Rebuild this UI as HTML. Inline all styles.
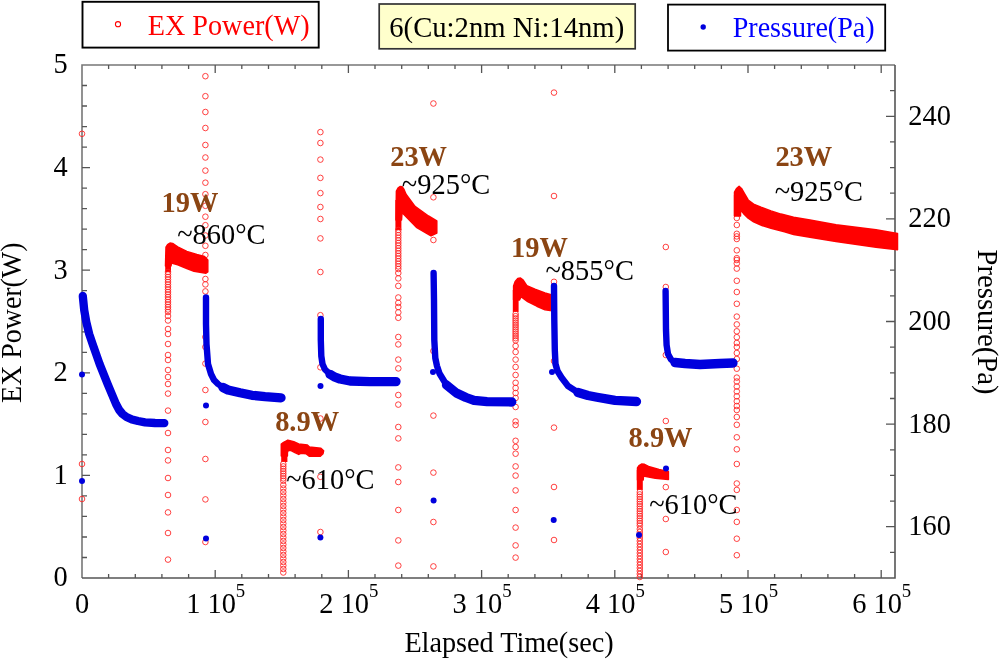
<!DOCTYPE html>
<html><head><meta charset="utf-8"><title>EX Power and Pressure vs Elapsed Time</title><style>
html,body{margin:0;padding:0;background:#fff;width:1000px;height:660px;overflow:hidden}
svg{display:block}
text{font-family:"Liberation Serif",serif}
</style></head><body>
<svg width="1000" height="660" viewBox="0 0 1000 660">
<path d="M82.0,578.0 V65.0 H895.0" fill="none" stroke="#777" stroke-width="1.6"/>
<path d="M82.0,578.0 H895.0 V65.0" fill="none" stroke="#555" stroke-width="1.6"/>
<path d="M108.6,578.0v-4.0M108.6,65.0v4.0M135.3,578.0v-4.0M135.3,65.0v4.0M161.9,578.0v-4.0M161.9,65.0v4.0M188.6,578.0v-4.0M188.6,65.0v4.0M215.2,578.0v-8.0M215.2,65.0v8.0M241.8,578.0v-4.0M241.8,65.0v4.0M268.5,578.0v-4.0M268.5,65.0v4.0M295.1,578.0v-4.0M295.1,65.0v4.0M321.8,578.0v-4.0M321.8,65.0v4.0M348.4,578.0v-8.0M348.4,65.0v8.0M375.0,578.0v-4.0M375.0,65.0v4.0M401.7,578.0v-4.0M401.7,65.0v4.0M428.3,578.0v-4.0M428.3,65.0v4.0M455.0,578.0v-4.0M455.0,65.0v4.0M481.6,578.0v-8.0M481.6,65.0v8.0M508.2,578.0v-4.0M508.2,65.0v4.0M534.9,578.0v-4.0M534.9,65.0v4.0M561.5,578.0v-4.0M561.5,65.0v4.0M588.2,578.0v-4.0M588.2,65.0v4.0M614.8,578.0v-8.0M614.8,65.0v8.0M641.4,578.0v-4.0M641.4,65.0v4.0M668.1,578.0v-4.0M668.1,65.0v4.0M694.7,578.0v-4.0M694.7,65.0v4.0M721.4,578.0v-4.0M721.4,65.0v4.0M748.0,578.0v-8.0M748.0,65.0v8.0M774.6,578.0v-4.0M774.6,65.0v4.0M801.3,578.0v-4.0M801.3,65.0v4.0M827.9,578.0v-4.0M827.9,65.0v4.0M854.6,578.0v-4.0M854.6,65.0v4.0M881.2,578.0v-8.0M881.2,65.0v8.0M82.0,557.5h5.0M82.0,537.0h5.0M82.0,516.4h5.0M82.0,495.9h5.0M82.0,475.4h8.0M82.0,454.9h5.0M82.0,434.4h5.0M82.0,413.8h5.0M82.0,393.3h5.0M82.0,372.8h8.0M82.0,352.3h5.0M82.0,331.8h5.0M82.0,311.2h5.0M82.0,290.7h5.0M82.0,270.2h8.0M82.0,249.7h5.0M82.0,229.2h5.0M82.0,208.6h5.0M82.0,188.1h5.0M82.0,167.6h8.0M82.0,147.1h5.0M82.0,126.6h5.0M82.0,106.0h5.0M82.0,85.5h5.0M895.0,552.4h-5.0M895.0,526.7h-9.0M895.0,501.1h-5.0M895.0,475.4h-5.0M895.0,449.8h-5.0M895.0,424.1h-9.0M895.0,398.5h-5.0M895.0,372.8h-5.0M895.0,347.1h-5.0M895.0,321.5h-9.0M895.0,295.9h-5.0M895.0,270.2h-5.0M895.0,244.6h-5.0M895.0,218.9h-9.0M895.0,193.2h-5.0M895.0,167.6h-5.0M895.0,141.9h-5.0M895.0,116.3h-9.0M895.0,90.7h-5.0" fill="none" stroke="#555" stroke-width="1.3"/>
<g fill="#f00">
<rect x="165.2" y="255.0" width="5.8" height="17.0"/>
<rect x="281.2" y="445.0" width="6.2" height="17.0"/>
<rect x="395.4" y="200.0" width="6.0" height="30.0"/>
<rect x="512.8" y="290.0" width="5.8" height="22.0"/>
<rect x="636.8" y="470.0" width="6.0" height="20.0"/>
<rect x="733.9" y="195.0" width="6.0" height="21.0"/>
</g>
<g fill="none" stroke="#f22" stroke-opacity="0.9" stroke-width="0.95">
<circle cx="82.0" cy="133.8" r="2.80"/>
<circle cx="82.0" cy="464.0" r="2.80"/>
<circle cx="82.0" cy="499.0" r="2.80"/>
<circle cx="168.0" cy="272.0" r="2.80"/>
<circle cx="168.0" cy="274.5" r="2.80"/>
<circle cx="168.0" cy="277.0" r="2.80"/>
<circle cx="168.0" cy="279.5" r="2.80"/>
<circle cx="168.0" cy="282.0" r="2.80"/>
<circle cx="168.0" cy="284.5" r="2.80"/>
<circle cx="168.0" cy="287.0" r="2.80"/>
<circle cx="168.0" cy="289.5" r="2.80"/>
<circle cx="168.0" cy="292.0" r="2.80"/>
<circle cx="168.0" cy="294.5" r="2.80"/>
<circle cx="168.0" cy="297.0" r="2.80"/>
<circle cx="168.0" cy="299.5" r="2.80"/>
<circle cx="168.0" cy="302.0" r="2.80"/>
<circle cx="168.0" cy="304.5" r="2.80"/>
<circle cx="168.0" cy="307.0" r="2.80"/>
<circle cx="168.0" cy="309.5" r="2.80"/>
<circle cx="168.0" cy="312.0" r="2.80"/>
<circle cx="168.0" cy="316.0" r="2.80"/>
<circle cx="168.0" cy="320.5" r="2.80"/>
<circle cx="168.0" cy="329.0" r="2.80"/>
<circle cx="168.0" cy="334.0" r="2.80"/>
<circle cx="168.0" cy="344.0" r="2.80"/>
<circle cx="168.0" cy="355.0" r="2.80"/>
<circle cx="168.0" cy="360.0" r="2.80"/>
<circle cx="168.0" cy="370.0" r="2.80"/>
<circle cx="168.0" cy="377.0" r="2.80"/>
<circle cx="168.0" cy="384.0" r="2.80"/>
<circle cx="168.0" cy="393.6" r="2.80"/>
<circle cx="168.0" cy="410.6" r="2.80"/>
<circle cx="168.0" cy="433.0" r="2.80"/>
<circle cx="168.0" cy="450.0" r="2.80"/>
<circle cx="168.0" cy="460.4" r="2.80"/>
<circle cx="168.0" cy="478.0" r="2.80"/>
<circle cx="168.0" cy="495.0" r="2.80"/>
<circle cx="168.0" cy="512.4" r="2.80"/>
<circle cx="168.0" cy="533.0" r="2.80"/>
<circle cx="168.0" cy="559.6" r="2.80"/>
<circle cx="205.4" cy="76.2" r="2.80"/>
<circle cx="205.4" cy="96.2" r="2.80"/>
<circle cx="205.4" cy="112.0" r="2.80"/>
<circle cx="205.4" cy="128.0" r="2.80"/>
<circle cx="205.4" cy="145.0" r="2.80"/>
<circle cx="205.4" cy="157.5" r="2.80"/>
<circle cx="205.4" cy="170.6" r="2.80"/>
<circle cx="205.4" cy="182.7" r="2.80"/>
<circle cx="205.4" cy="194.2" r="2.80"/>
<circle cx="205.4" cy="205.8" r="2.80"/>
<circle cx="205.4" cy="216.7" r="2.80"/>
<circle cx="205.4" cy="225.2" r="2.80"/>
<circle cx="205.4" cy="235.5" r="2.80"/>
<circle cx="205.4" cy="245.8" r="2.80"/>
<circle cx="205.4" cy="255.0" r="2.80"/>
<circle cx="205.4" cy="279.0" r="2.80"/>
<circle cx="205.4" cy="284.4" r="2.80"/>
<circle cx="205.4" cy="291.4" r="2.80"/>
<circle cx="205.4" cy="337.0" r="2.80"/>
<circle cx="205.4" cy="347.0" r="2.80"/>
<circle cx="205.4" cy="363.6" r="2.80"/>
<circle cx="205.4" cy="390.0" r="2.80"/>
<circle cx="205.4" cy="422.0" r="2.80"/>
<circle cx="205.4" cy="459.0" r="2.80"/>
<circle cx="205.4" cy="499.4" r="2.80"/>
<circle cx="205.4" cy="542.0" r="2.80"/>
<circle cx="320.4" cy="132.1" r="2.80"/>
<circle cx="320.4" cy="143.0" r="2.80"/>
<circle cx="320.4" cy="159.6" r="2.80"/>
<circle cx="320.4" cy="177.9" r="2.80"/>
<circle cx="320.4" cy="193.1" r="2.80"/>
<circle cx="320.4" cy="207.0" r="2.80"/>
<circle cx="320.4" cy="219.0" r="2.80"/>
<circle cx="320.4" cy="238.4" r="2.80"/>
<circle cx="320.4" cy="272.0" r="2.80"/>
<circle cx="320.4" cy="315.2" r="2.80"/>
<circle cx="320.4" cy="367.3" r="2.80"/>
<circle cx="320.4" cy="418.5" r="2.80"/>
<circle cx="320.4" cy="476.8" r="2.80"/>
<circle cx="320.4" cy="532.0" r="2.80"/>
<circle cx="283.3" cy="464.0" r="2.80"/>
<circle cx="283.3" cy="466.4" r="2.80"/>
<circle cx="283.3" cy="468.8" r="2.80"/>
<circle cx="283.3" cy="471.2" r="2.80"/>
<circle cx="283.3" cy="473.6" r="2.80"/>
<circle cx="283.3" cy="476.0" r="2.80"/>
<circle cx="283.3" cy="478.4" r="2.80"/>
<circle cx="283.3" cy="480.8" r="2.80"/>
<circle cx="283.3" cy="485.0" r="2.80"/>
<circle cx="283.3" cy="488.5" r="2.80"/>
<circle cx="283.3" cy="492.0" r="2.80"/>
<circle cx="283.3" cy="495.5" r="2.80"/>
<circle cx="283.3" cy="499.0" r="2.80"/>
<circle cx="283.3" cy="502.5" r="2.80"/>
<circle cx="283.3" cy="506.0" r="2.80"/>
<circle cx="283.3" cy="509.5" r="2.80"/>
<circle cx="283.3" cy="513.0" r="2.80"/>
<circle cx="283.3" cy="516.5" r="2.80"/>
<circle cx="283.3" cy="520.0" r="2.80"/>
<circle cx="283.3" cy="523.5" r="2.80"/>
<circle cx="283.3" cy="527.0" r="2.80"/>
<circle cx="283.3" cy="530.5" r="2.80"/>
<circle cx="283.3" cy="534.0" r="2.80"/>
<circle cx="283.3" cy="537.5" r="2.80"/>
<circle cx="283.3" cy="541.0" r="2.80"/>
<circle cx="283.3" cy="544.5" r="2.80"/>
<circle cx="283.3" cy="548.0" r="2.80"/>
<circle cx="283.3" cy="551.5" r="2.80"/>
<circle cx="283.3" cy="555.0" r="2.80"/>
<circle cx="283.3" cy="558.5" r="2.80"/>
<circle cx="283.3" cy="562.0" r="2.80"/>
<circle cx="283.3" cy="565.5" r="2.80"/>
<circle cx="283.3" cy="569.0" r="2.80"/>
<circle cx="283.3" cy="572.5" r="2.80"/>
<circle cx="398.3" cy="230.0" r="2.80"/>
<circle cx="398.3" cy="232.6" r="2.80"/>
<circle cx="398.3" cy="235.2" r="2.80"/>
<circle cx="398.3" cy="237.8" r="2.80"/>
<circle cx="398.3" cy="240.4" r="2.80"/>
<circle cx="398.3" cy="243.0" r="2.80"/>
<circle cx="398.3" cy="245.6" r="2.80"/>
<circle cx="398.3" cy="248.2" r="2.80"/>
<circle cx="398.3" cy="250.8" r="2.80"/>
<circle cx="398.3" cy="253.4" r="2.80"/>
<circle cx="398.3" cy="256.0" r="2.80"/>
<circle cx="398.3" cy="258.6" r="2.80"/>
<circle cx="398.3" cy="261.2" r="2.80"/>
<circle cx="398.3" cy="263.8" r="2.80"/>
<circle cx="398.3" cy="266.4" r="2.80"/>
<circle cx="398.3" cy="269.0" r="2.80"/>
<circle cx="398.3" cy="273.0" r="2.80"/>
<circle cx="398.3" cy="278.4" r="2.80"/>
<circle cx="398.3" cy="285.9" r="2.80"/>
<circle cx="398.3" cy="297.5" r="2.80"/>
<circle cx="398.3" cy="302.9" r="2.80"/>
<circle cx="398.3" cy="307.0" r="2.80"/>
<circle cx="398.3" cy="312.4" r="2.80"/>
<circle cx="398.3" cy="317.8" r="2.80"/>
<circle cx="398.3" cy="337.0" r="2.80"/>
<circle cx="398.3" cy="344.4" r="2.80"/>
<circle cx="398.3" cy="359.6" r="2.80"/>
<circle cx="398.3" cy="368.4" r="2.80"/>
<circle cx="398.3" cy="395.0" r="2.80"/>
<circle cx="398.3" cy="404.6" r="2.80"/>
<circle cx="398.3" cy="427.0" r="2.80"/>
<circle cx="398.3" cy="438.4" r="2.80"/>
<circle cx="398.3" cy="467.4" r="2.80"/>
<circle cx="398.3" cy="482.0" r="2.80"/>
<circle cx="398.3" cy="510.0" r="2.80"/>
<circle cx="398.3" cy="540.4" r="2.80"/>
<circle cx="398.3" cy="565.6" r="2.80"/>
<circle cx="433.4" cy="103.5" r="2.80"/>
<circle cx="433.4" cy="197.3" r="2.80"/>
<circle cx="433.4" cy="240.0" r="2.80"/>
<circle cx="433.4" cy="351.0" r="2.80"/>
<circle cx="433.4" cy="415.6" r="2.80"/>
<circle cx="433.4" cy="472.6" r="2.80"/>
<circle cx="433.4" cy="522.0" r="2.80"/>
<circle cx="433.4" cy="566.4" r="2.80"/>
<circle cx="515.6" cy="314.0" r="2.80"/>
<circle cx="515.6" cy="316.2" r="2.80"/>
<circle cx="515.6" cy="318.4" r="2.80"/>
<circle cx="515.6" cy="320.6" r="2.80"/>
<circle cx="515.6" cy="322.8" r="2.80"/>
<circle cx="515.6" cy="325.0" r="2.80"/>
<circle cx="515.6" cy="327.2" r="2.80"/>
<circle cx="515.6" cy="329.4" r="2.80"/>
<circle cx="515.6" cy="331.6" r="2.80"/>
<circle cx="515.6" cy="333.8" r="2.80"/>
<circle cx="515.6" cy="336.0" r="2.80"/>
<circle cx="515.6" cy="338.2" r="2.80"/>
<circle cx="515.6" cy="340.4" r="2.80"/>
<circle cx="515.6" cy="346.0" r="2.80"/>
<circle cx="515.6" cy="352.0" r="2.80"/>
<circle cx="515.6" cy="359.6" r="2.80"/>
<circle cx="515.6" cy="367.0" r="2.80"/>
<circle cx="515.6" cy="375.0" r="2.80"/>
<circle cx="515.6" cy="382.8" r="2.80"/>
<circle cx="515.6" cy="388.0" r="2.80"/>
<circle cx="515.6" cy="393.0" r="2.80"/>
<circle cx="515.6" cy="398.0" r="2.80"/>
<circle cx="515.6" cy="407.0" r="2.80"/>
<circle cx="515.6" cy="421.4" r="2.80"/>
<circle cx="515.6" cy="425.0" r="2.80"/>
<circle cx="515.6" cy="440.8" r="2.80"/>
<circle cx="515.6" cy="447.0" r="2.80"/>
<circle cx="515.6" cy="453.7" r="2.80"/>
<circle cx="515.6" cy="466.4" r="2.80"/>
<circle cx="515.6" cy="475.6" r="2.80"/>
<circle cx="515.6" cy="490.4" r="2.80"/>
<circle cx="515.6" cy="510.0" r="2.80"/>
<circle cx="515.6" cy="527.6" r="2.80"/>
<circle cx="515.6" cy="545.4" r="2.80"/>
<circle cx="515.6" cy="557.6" r="2.80"/>
<circle cx="554.0" cy="92.6" r="2.80"/>
<circle cx="554.0" cy="196.0" r="2.80"/>
<circle cx="554.0" cy="281.8" r="2.80"/>
<circle cx="554.0" cy="361.0" r="2.80"/>
<circle cx="554.0" cy="427.6" r="2.80"/>
<circle cx="554.0" cy="487.0" r="2.80"/>
<circle cx="554.0" cy="540.0" r="2.80"/>
<circle cx="639.8" cy="492.0" r="2.80"/>
<circle cx="639.8" cy="494.4" r="2.80"/>
<circle cx="639.8" cy="496.8" r="2.80"/>
<circle cx="639.8" cy="499.2" r="2.80"/>
<circle cx="639.8" cy="501.6" r="2.80"/>
<circle cx="639.8" cy="504.0" r="2.80"/>
<circle cx="639.8" cy="506.4" r="2.80"/>
<circle cx="639.8" cy="508.8" r="2.80"/>
<circle cx="639.8" cy="511.2" r="2.80"/>
<circle cx="639.8" cy="513.6" r="2.80"/>
<circle cx="639.8" cy="516.0" r="2.80"/>
<circle cx="639.8" cy="518.4" r="2.80"/>
<circle cx="639.8" cy="520.8" r="2.80"/>
<circle cx="639.8" cy="523.2" r="2.80"/>
<circle cx="639.8" cy="525.6" r="2.80"/>
<circle cx="639.8" cy="529.0" r="2.80"/>
<circle cx="639.8" cy="532.0" r="2.80"/>
<circle cx="639.8" cy="535.0" r="2.80"/>
<circle cx="639.8" cy="538.0" r="2.80"/>
<circle cx="639.8" cy="541.0" r="2.80"/>
<circle cx="639.8" cy="544.0" r="2.80"/>
<circle cx="639.8" cy="547.0" r="2.80"/>
<circle cx="639.8" cy="550.0" r="2.80"/>
<circle cx="639.8" cy="553.0" r="2.80"/>
<circle cx="639.8" cy="556.0" r="2.80"/>
<circle cx="639.8" cy="559.0" r="2.80"/>
<circle cx="639.8" cy="562.0" r="2.80"/>
<circle cx="639.8" cy="565.0" r="2.80"/>
<circle cx="639.8" cy="568.0" r="2.80"/>
<circle cx="639.8" cy="571.0" r="2.80"/>
<circle cx="639.8" cy="574.0" r="2.80"/>
<circle cx="639.8" cy="577.0" r="2.80"/>
<circle cx="665.8" cy="247.0" r="2.80"/>
<circle cx="665.8" cy="287.0" r="2.80"/>
<circle cx="665.8" cy="355.0" r="2.80"/>
<circle cx="665.8" cy="421.0" r="2.80"/>
<circle cx="665.8" cy="487.1" r="2.80"/>
<circle cx="665.8" cy="519.0" r="2.80"/>
<circle cx="665.8" cy="552.0" r="2.80"/>
<circle cx="736.8" cy="218.0" r="2.80"/>
<circle cx="736.8" cy="225.0" r="2.80"/>
<circle cx="736.8" cy="233.8" r="2.80"/>
<circle cx="736.8" cy="236.4" r="2.80"/>
<circle cx="736.8" cy="239.0" r="2.80"/>
<circle cx="736.8" cy="250.3" r="2.80"/>
<circle cx="736.8" cy="258.2" r="2.80"/>
<circle cx="736.8" cy="260.0" r="2.80"/>
<circle cx="736.8" cy="263.4" r="2.80"/>
<circle cx="736.8" cy="268.6" r="2.80"/>
<circle cx="736.8" cy="280.8" r="2.80"/>
<circle cx="736.8" cy="292.0" r="2.80"/>
<circle cx="736.8" cy="303.8" r="2.80"/>
<circle cx="736.8" cy="316.6" r="2.80"/>
<circle cx="736.8" cy="324.4" r="2.80"/>
<circle cx="736.8" cy="331.3" r="2.80"/>
<circle cx="736.8" cy="337.2" r="2.80"/>
<circle cx="736.8" cy="343.0" r="2.80"/>
<circle cx="736.8" cy="347.0" r="2.80"/>
<circle cx="736.8" cy="353.0" r="2.80"/>
<circle cx="736.8" cy="359.0" r="2.80"/>
<circle cx="736.8" cy="368.7" r="2.80"/>
<circle cx="736.8" cy="377.6" r="2.80"/>
<circle cx="736.8" cy="381.5" r="2.80"/>
<circle cx="736.8" cy="386.5" r="2.80"/>
<circle cx="736.8" cy="391.4" r="2.80"/>
<circle cx="736.8" cy="396.3" r="2.80"/>
<circle cx="736.8" cy="401.2" r="2.80"/>
<circle cx="736.8" cy="406.0" r="2.80"/>
<circle cx="736.8" cy="410.0" r="2.80"/>
<circle cx="736.8" cy="417.0" r="2.80"/>
<circle cx="736.8" cy="424.8" r="2.80"/>
<circle cx="736.8" cy="437.3" r="2.80"/>
<circle cx="736.8" cy="449.3" r="2.80"/>
<circle cx="736.8" cy="464.0" r="2.80"/>
<circle cx="736.8" cy="483.5" r="2.80"/>
<circle cx="736.8" cy="489.9" r="2.80"/>
<circle cx="736.8" cy="510.0" r="2.80"/>
<circle cx="736.8" cy="521.9" r="2.80"/>
<circle cx="736.8" cy="538.7" r="2.80"/>
<circle cx="736.8" cy="555.2" r="2.80"/>
</g>
<g fill="#f00" stroke="#f00" stroke-width="1.5" stroke-linejoin="round">
<polygon points="166.0,247.2 167.6,244.6 170.0,243.0 172.6,243.4 177.7,246.8 186.8,251.4 196.8,254.5 204.5,256.4 207.8,260.0 207.8,272.0 206.0,273.2 194.0,271.3 186.8,268.5 177.7,264.8 171.4,263.0 171.0,266.0 165.5,266.0"/>
<polygon points="396.4,191.0 398.0,188.2 400.0,186.6 402.2,186.8 404.0,189.5 406.0,194.2 415.0,206.4 428.5,216.0 436.8,221.0 436.8,233.0 431.0,235.8 416.4,227.3 402.0,212.6 401.5,220.0 396.0,220.0"/>
<polygon points="281.3,444.0 283.6,442.3 287.9,440.1 293.8,441.7 298.7,443.9 307.4,445.0 309.5,447.0 320.9,448.2 323.6,450.9 323.0,453.6 320.3,456.3 309.5,456.3 306.3,453.8 300.9,453.3 298.7,454.4 294.9,452.6 291.1,450.6 288.4,450.2 287.4,452.5 287.4,456.0 281.3,456.0"/>
<polygon points="513.6,286.0 515.2,281.5 517.8,278.6 520.5,278.0 523.2,280.2 526.8,285.6 535.0,289.3 545.0,293.0 552.0,295.0 552.0,310.7 545.0,309.7 536.8,306.2 527.7,301.6 521.0,296.6 519.5,300.0 513.6,300.0"/>
<polygon points="637.5,468.0 639.0,465.6 641.5,464.1 644.5,464.3 648.5,466.5 659.0,469.5 668.4,471.4 668.4,479.4 655.3,478.2 643.5,476.0 643.2,480.0 637.5,480.0"/>
<polygon points="734.5,192.0 736.5,188.5 739.1,186.4 741.5,188.5 744.5,193.6 748.2,200.0 753.6,204.1 761.0,207.3 771.0,210.9 781.0,214.1 793.6,217.3 810.0,220.0 836.0,224.7 876.0,229.8 897.5,233.4 897.5,249.8 876.0,247.2 836.0,241.5 810.0,237.3 793.6,234.5 784.5,231.8 771.0,228.2 762.0,225.5 753.6,221.8 748.2,218.2 743.6,213.6 740.5,210.0 740.5,216.0 734.5,216.0"/>
</g>
<g fill="none" stroke="#0000dd" stroke-linecap="round" stroke-linejoin="round">
<polyline stroke-width="6.4" points="82.8,296.0 83.2,300.0 84.2,310.0 86.3,322.0 89.2,334.0 92.6,344.0 96.1,354.0 99.6,364.0 103.6,374.0 107.6,384.0 111.8,394.0 116.0,404.0 119.2,410.0 122.5,414.0 126.5,417.0 132.0,419.5 138.0,421.0 145.0,422.3 155.0,423.0 164.3,423.2"/>
<polyline stroke-width="8.3" points="82.8,296.0 83.2,300.0 84.2,310.0 86.3,322.0 89.2,334.0 92.6,344.0 96.1,354.0 99.6,364.0 103.6,374.0 107.6,384.0 111.8,394.0 116.0,404.0 119.2,410.0 122.5,414.0 126.5,417.0 132.0,419.5 138.0,421.0 145.0,422.3 155.0,423.0 164.3,423.2"/>
<polyline stroke-width="6.4" points="206.0,297.5 206.0,324.0 206.5,344.0 208.0,364.0 211.0,374.0 214.0,380.0 218.0,384.0 223.0,387.5 228.0,390.0 240.0,392.8 252.0,395.3 265.0,396.6 281.0,397.8"/>
<polyline stroke-width="9.3" points="223.0,387.5 228.0,390.0 240.0,392.8 252.0,395.3 265.0,396.6 281.0,397.8"/>
<polyline stroke-width="6.4" points="320.8,319.0 320.8,340.0 321.3,356.0 322.5,364.0 325.0,369.5 330.0,374.3 335.0,377.2 340.0,379.0 350.0,381.0 370.0,381.6 396.0,381.6"/>
<polyline stroke-width="9.3" points="330.0,374.3 335.0,377.2 340.0,379.0 350.0,381.0 370.0,381.6 396.0,381.6"/>
<polyline stroke-width="6.4" points="433.6,273.0 434.0,300.0 434.3,340.0 435.3,358.0 437.0,366.0 439.5,373.5 446.5,385.0 456.4,393.0 466.0,397.5 474.0,400.4 487.0,401.6 511.8,402.0"/>
<polyline stroke-width="9.3" points="446.5,385.0 456.4,393.0 466.0,397.5 474.0,400.4 487.0,401.6 511.8,402.0"/>
<polyline stroke-width="6.4" points="554.0,286.0 554.3,320.0 554.8,350.0 555.5,364.0 557.5,371.0 561.5,377.5 568.0,386.0 578.0,392.5 588.0,395.5 597.0,397.2 615.0,400.3 636.5,401.5"/>
<polyline stroke-width="9.3" points="578.0,392.5 588.0,395.5 597.0,397.2 615.0,400.3 636.5,401.5"/>
<polyline stroke-width="6.4" points="665.6,291.0 666.0,330.0 666.6,345.0 668.0,354.0 671.0,359.5 675.0,362.5 685.0,363.5 700.0,364.5 720.0,363.5 733.0,363.0"/>
<polyline stroke-width="9.3" points="675.0,362.5 685.0,363.5 700.0,364.5 720.0,363.5 733.0,363.0"/>
</g>
<g fill="#0000dd">
<circle cx="82.0" cy="374.6" r="3.0"/>
<circle cx="82.0" cy="481.0" r="3.0"/>
<circle cx="206.0" cy="405.6" r="3.0"/>
<circle cx="206.0" cy="538.4" r="3.0"/>
<circle cx="320.5" cy="386.0" r="3.0"/>
<circle cx="320.4" cy="537.4" r="3.0"/>
<circle cx="433.0" cy="372.0" r="3.0"/>
<circle cx="433.6" cy="500.6" r="3.0"/>
<circle cx="552.0" cy="372.0" r="3.0"/>
<circle cx="553.7" cy="520.0" r="3.0"/>
<circle cx="639.0" cy="535.0" r="3.0"/>
<circle cx="666.0" cy="468.6" r="3.0"/>
</g>
<g font-size="28.4" fill="#000" transform="translate(0,0)"><text transform="translate(67.6,586.40) scale(1,1.04)" text-anchor="end">0</text><text transform="translate(67.6,483.80) scale(1,1.04)" text-anchor="end">1</text><text transform="translate(67.6,381.20) scale(1,1.04)" text-anchor="end">2</text><text transform="translate(67.6,278.60) scale(1,1.04)" text-anchor="end">3</text><text transform="translate(67.6,176.00) scale(1,1.04)" text-anchor="end">4</text><text transform="translate(67.6,73.40) scale(1,1.04)" text-anchor="end">5</text><text transform="translate(908.3,535.20) scale(1,1.04)">160</text><text transform="translate(908.3,432.60) scale(1,1.04)">180</text><text transform="translate(908.3,330.00) scale(1,1.04)">200</text><text transform="translate(908.3,227.40) scale(1,1.04)">220</text><text transform="translate(908.3,124.80) scale(1,1.04)">240</text><text transform="translate(82.1,613.3) scale(1,1.04)" text-anchor="middle">0</text><text transform="translate(215.7,613.3) scale(1,1.04)" text-anchor="middle">1 10<tspan font-size="18.8" dy="-15.2">5</tspan></text><text transform="translate(348.9,613.3) scale(1,1.04)" text-anchor="middle">2 10<tspan font-size="18.8" dy="-15.2">5</tspan></text><text transform="translate(482.1,613.3) scale(1,1.04)" text-anchor="middle">3 10<tspan font-size="18.8" dy="-15.2">5</tspan></text><text transform="translate(615.3,613.3) scale(1,1.04)" text-anchor="middle">4 10<tspan font-size="18.8" dy="-15.2">5</tspan></text><text transform="translate(748.5,613.3) scale(1,1.04)" text-anchor="middle">5 10<tspan font-size="18.8" dy="-15.2">5</tspan></text><text transform="translate(881.7,613.3) scale(1,1.04)" text-anchor="middle">6 10<tspan font-size="18.8" dy="-15.2">5</tspan></text></g>
<rect x="82.5" y="1.8" width="236.2" height="45.8" fill="#fff" stroke="#000" stroke-width="1.9"/>
<circle cx="118" cy="24.2" r="2.6" fill="none" stroke="#f00" stroke-width="1.05"/>
<rect x="379.2" y="4" width="256" height="44.8" fill="#ffffcc" stroke="#333" stroke-width="1.7"/>
<rect x="668" y="4.6" width="217.2" height="46" fill="#fff" stroke="#000" stroke-width="1.8"/>
<circle cx="703.2" cy="27" r="2.7" fill="#0000dd"/>
<text transform="translate(147.68,34.60) scale(1,1.040)" font-size="28.19" fill="#f00">EX Power(W)</text>
<text transform="translate(389.27,36.80) scale(1,1.040)" font-size="28.68" fill="#000">6(Cu:2nm Ni:14nm)</text>
<text transform="translate(732.68,37.10) scale(1,1.040)" font-size="28.11" fill="#00f">Pressure(Pa)</text>
<text transform="translate(404.38,652.40) scale(1,1.040)" font-size="28.23" fill="#000">Elapsed Time(sec)</text>
<text transform="translate(21.40,402.91) rotate(-90) scale(1,1.040)" font-size="27.91" fill="#000">EX Power(W)</text>
<text transform="translate(978.20,249.47) rotate(90) scale(1,1.040)" font-size="28.73" fill="#000">Pressure(Pa)</text>
<text transform="translate(161.54,211.90) scale(1,1.040)" font-size="28.45" fill="#8b4513" font-weight="bold">19W</text>
<text transform="translate(390.18,166.20) scale(1,1.040)" font-size="28.45" fill="#8b4513" font-weight="bold">23W</text>
<text transform="translate(275.15,430.70) scale(1,1.040)" font-size="28.45" fill="#8b4513" font-weight="bold">8.9W</text>
<text transform="translate(510.94,257.20) scale(1,1.040)" font-size="28.45" fill="#8b4513" font-weight="bold">19W</text>
<text transform="translate(628.55,446.80) scale(1,1.040)" font-size="28.45" fill="#8b4513" font-weight="bold">8.9W</text>
<text transform="translate(775.38,166.20) scale(1,1.040)" font-size="28.45" fill="#8b4513" font-weight="bold">23W</text>
<text transform="translate(177.17,243.80) scale(1,1.040)" font-size="28.45" fill="#000">~860°C</text>
<text transform="translate(401.87,194.20) scale(1,1.040)" font-size="28.45" fill="#000">~925°C</text>
<text transform="translate(286.17,489.20) scale(1,1.040)" font-size="28.45" fill="#000">~610°C</text>
<text transform="translate(545.47,280.20) scale(1,1.040)" font-size="28.45" fill="#000">~855°C</text>
<text transform="translate(649.17,513.80) scale(1,1.040)" font-size="28.45" fill="#000">~610°C</text>
<text transform="translate(774.67,201.20) scale(1,1.040)" font-size="28.45" fill="#000">~925°C</text>
</svg>
</body></html>
